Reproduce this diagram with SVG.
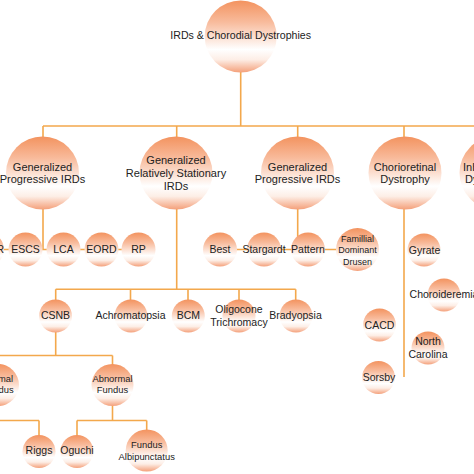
<svg xmlns="http://www.w3.org/2000/svg" width="474" height="474" viewBox="0 0 474 474">
<defs>
<linearGradient id="g" x1="0" y1="0" x2="0" y2="1">
<stop offset="0" stop-color="#f3935f"/>
<stop offset="0.3" stop-color="#f8bb9c"/>
<stop offset="0.68" stop-color="#ffffff"/>
<stop offset="0.82" stop-color="#fdeee6"/>
<stop offset="1" stop-color="#f4a07a"/>
</linearGradient>
<style>
.n{fill:url(#g);stroke:none}
.c{stroke:#f3a84c;stroke-width:1.6;fill:none}
text{font-family:"Liberation Sans",Arial,sans-serif;fill:#222;text-anchor:middle}
.t1{font-size:11px}
.t0{font-size:10.6px}
.t2{font-size:10.5px}
.t3{font-size:9.4px}
.t4{font-size:9px}
</style>
</defs>
<rect width="474" height="474" fill="#ffffff"/>
<g id="connectors" class="c">
<path d="M240.7 72V126M43 126H480M43 126V138M176.7 126V138M297.7 126V138M404 126V138M496 126V138"/>
<path d="M43 209V249.5M-13 249.5H138.5"/>
<path d="M297.7 209V249.5M220 249.5H357.5"/>
<path d="M176.7 209V289.3M55.7 289.3H295.7M55.7 289.3V300M130.5 289.3V300M188 289.3V300M239 289.3V300M295.7 289.3V300"/>
<path d="M404 209V377"/>
<path d="M55.7 332V355.5M-2 355.5H112.5M112.5 355.5V365M-2 355.5V365"/>
<path d="M112.5 405V420.5M77 420.5H146.7M77 420.5V436M146.7 420.5V430"/>
<path d="M-40 420.5H39M39 420.5V436"/>
</g>
<g id="root"><circle class="n" cx="240.7" cy="36.5" r="36"/><text class="t0" x="240.7" y="39">IRDs &amp; Chorodial Dystrophies</text></g>
<g id="gp1"><circle class="n" cx="42.5" cy="173" r="36.5"/><text class="t1" x="42.5" y="170.7">Generalized</text><text class="t1" x="42.5" y="183.3">Progressive IRDs</text></g>
<g id="grs"><circle class="n" cx="176" cy="173" r="36.5"/><text class="t1" x="176" y="164">Generalized</text><text class="t1" x="176" y="177.3">Relatively Stationary</text><text class="t1" x="176" y="190">IRDs</text></g>
<g id="gp2"><circle class="n" cx="297.5" cy="173" r="36.5"/><text class="t1" x="297.5" y="170.7">Generalized</text><text class="t1" x="297.5" y="183.3">Progressive IRDs</text></g>
<g id="chorio"><circle class="n" cx="405" cy="173" r="36.5"/><text class="t1" x="405" y="170.7">Chorioretinal</text><text class="t1" x="405" y="183.3">Dystrophy</text></g>
<g id="inh"><circle class="n" cx="496" cy="173" r="36.5"/><text class="t1" x="463" y="170.7" style="text-anchor:start">Inherited</text><text class="t1" x="465" y="183.3" style="text-anchor:start">Dystrophy</text></g>
<g id="rnode"><circle class="n" cx="-13" cy="249.5" r="17"/><text class="t2" x="4" y="253.3" style="text-anchor:end">R</text></g>
<g id="escs"><circle class="n" cx="25.5" cy="249.5" r="17"/><text class="t2" x="25.5" y="253.3">ESCS</text></g>
<g id="lca"><circle class="n" cx="63.5" cy="249.5" r="17"/><text class="t2" x="63.5" y="253.3">LCA</text></g>
<g id="eord"><circle class="n" cx="101.5" cy="249.5" r="17"/><text class="t2" x="101.5" y="253.3">EORD</text></g>
<g id="rp"><circle class="n" cx="138.5" cy="249.5" r="17"/><text class="t2" x="138.5" y="253.3">RP</text></g>
<g id="best"><circle class="n" cx="220" cy="249.5" r="17"/><text class="t2" x="220" y="253.3">Best</text></g>
<g id="stargardt"><circle class="n" cx="264" cy="249.5" r="17"/><text class="t2" x="264" y="253.3">Stargardt</text></g>
<g id="pattern"><circle class="n" cx="308" cy="249.5" r="17"/><text class="t2" x="308" y="253.3">Pattern</text></g>
<g id="fdd"><circle class="n" cx="357.5" cy="249.5" r="21.5"/><text class="t4" x="357.5" y="241.5">Famillial</text><text class="t4" x="357.5" y="253.2">Dominant</text><text class="t4" x="357.5" y="264.9">Drusen</text></g>
<g id="csnb"><circle class="n" cx="55.5" cy="316" r="16.5"/><text class="t2" x="55.5" y="319">CSNB</text></g>
<g id="achro"><circle class="n" cx="131" cy="316" r="16.5"/><text class="t2" x="130.5" y="319">Achromatopsia</text></g>
<g id="bcm"><circle class="n" cx="188.3" cy="316" r="16.5"/><text class="t2" x="188.3" y="319">BCM</text></g>
<g id="oligo"><circle class="n" cx="239" cy="316" r="16.5"/><text class="t2" x="239" y="312.8">Oligocone</text><text class="t2" x="239" y="325.5">Trichromacy</text></g>
<g id="brady"><circle class="n" cx="296" cy="316" r="16.5"/><text class="t2" x="295.5" y="319">Bradyopsia</text></g>
<g id="gyrate"><circle class="n" cx="424" cy="250" r="16.5"/><text class="t2" x="424.5" y="253.7">Gyrate</text></g>
<g id="chm"><circle class="n" cx="444" cy="295" r="16.5"/><text class="t2" x="444" y="297.8">Choroideremia</text></g>
<g id="cacd"><circle class="n" cx="379.5" cy="325" r="16.5"/><text class="t2" x="379.5" y="328.7">CACD</text></g>
<g id="nc"><circle class="n" cx="428" cy="348" r="16.5"/><text class="t2" x="428" y="344.7">North</text><text class="t2" x="428" y="358.3">Carolina</text></g>
<g id="sorsby"><circle class="n" cx="378.5" cy="377.5" r="16.5"/><text class="t2" x="379" y="381">Sorsby</text></g>
<g id="normal"><circle class="n" cx="-2" cy="385" r="21"/><text class="t3" x="-2" y="381.7">Normal</text><text class="t3" x="-2" y="393.4">Fundus</text></g>
<g id="abnormal"><circle class="n" cx="112.5" cy="385" r="21"/><text class="t3" x="112.5" y="381.7">Abnormal</text><text class="t3" x="112.5" y="393.4">Fundus</text></g>
<g id="riggs"><circle class="n" cx="39" cy="451.5" r="16.5"/><text class="t2" x="39" y="454.3">Riggs</text></g>
<g id="oguchi"><circle class="n" cx="77" cy="451.5" r="16.5"/><text class="t2" x="77" y="454.3">Oguchi</text></g>
<g id="fa"><circle class="n" cx="146.7" cy="450.5" r="21"/><text class="t3" x="146.7" y="448.3">Fundus</text><text class="t3" x="146.7" y="460">Albipunctatus</text></g>
</svg>
